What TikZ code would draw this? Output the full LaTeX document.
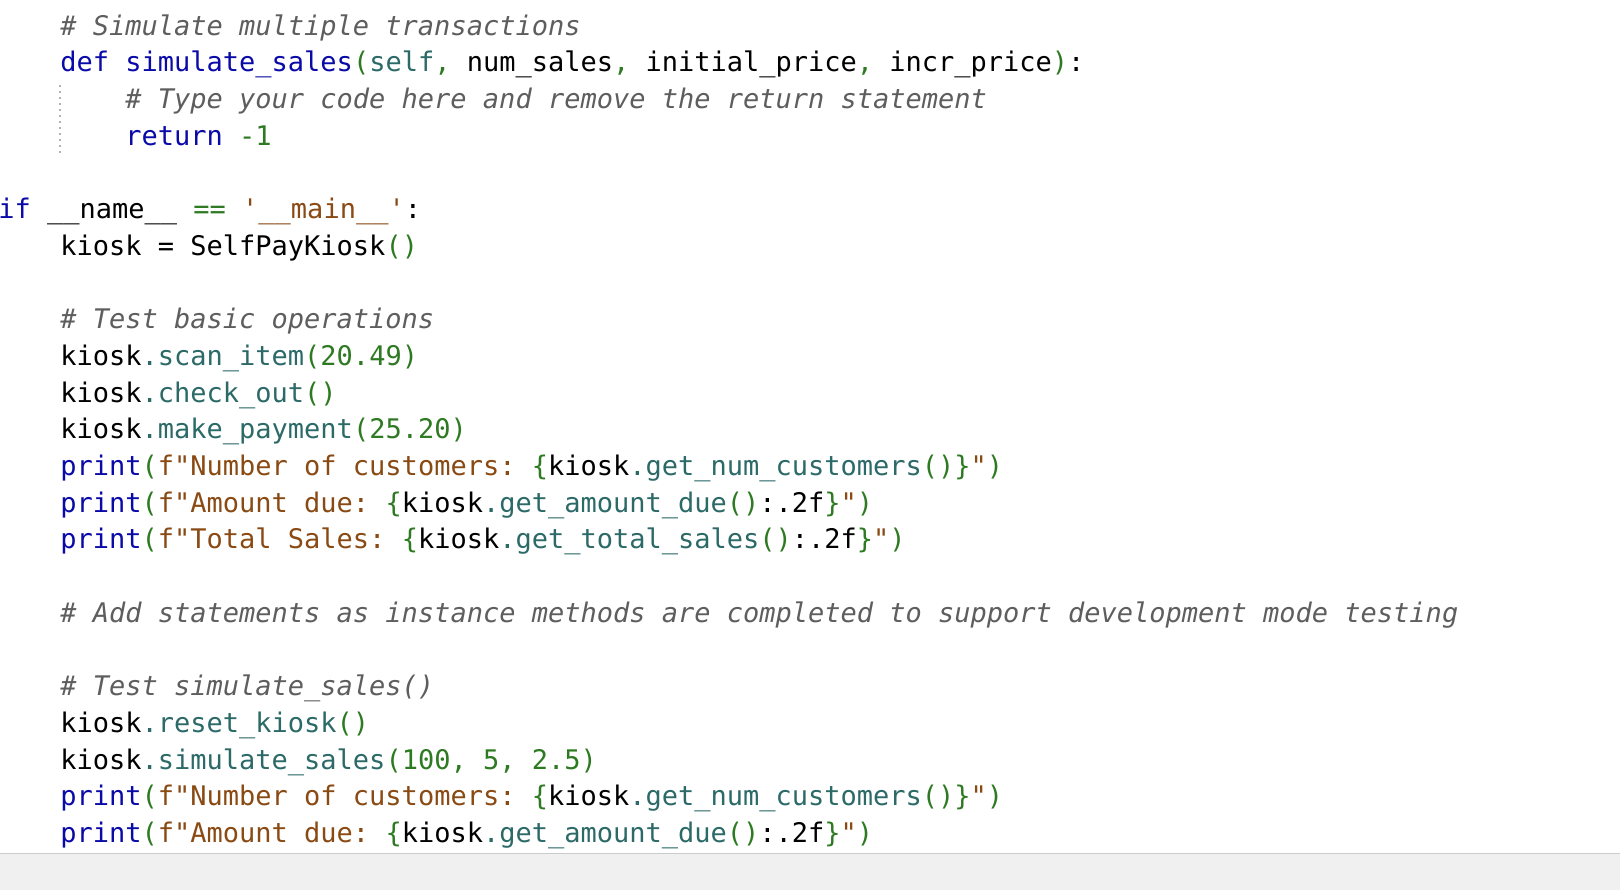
\documentclass[tikz,border=0pt]{standalone}
\usepackage{fontspec}
\setmonofont{DejaVu Sans Mono}
\definecolor{kw}{HTML}{0A0AA8}
\definecolor{pn}{HTML}{2E7A22}
\definecolor{mt}{HTML}{2C6A68}
\definecolor{st}{HTML}{8A4A14}
\definecolor{cm}{HTML}{5E5E5E}
\newcommand\cK[1]{\textcolor{kw}{#1}}
\newcommand\cP[1]{\textcolor{pn}{#1}}
\newcommand\cM[1]{\textcolor{mt}{#1}}
\newcommand\cS[1]{\textcolor{st}{#1}}
\newcommand\cC[1]{\textcolor{cm}{\itshape #1}}
\newcommand\cl[4]{\node[code] (#1) at ({-5+16.25*#2},{35+36.7*#3}) {#4};}
\begin{document}
\begin{tikzpicture}[x=0.5pt,y=-0.5pt,
  code/.style={anchor=base west,inner sep=0pt,font=\ttfamily\fontsize{13.5pt}{16pt}\selectfont}]
\useasboundingbox[fill=white] (0,0) rectangle (1620,890);
\cl{l0}{4}{0}{\cC{\# Simulate multiple transactions}}
\cl{l1}{4}{1}{\cK{def simulate\_sales}\cP{(}\cM{self}\cP{,} num\_sales\cP{,} initial\_price\cP{,} incr\_price\cP{)}:}
\cl{l2}{8}{2}{\cC{\# Type your code here and remove the return statement}}
\cl{l3}{8}{3}{\cK{return} \cP{-1}}
\node[code] (l5) at (-2,{35+36.7*5}) {\cK{if} \_\_name\_\_ \cP{==} \cS{'\_\_main\_\_'}:};
\cl{l6}{4}{6}{kiosk = SelfPayKiosk\cP{()}}
\cl{l8}{4}{8}{\cC{\# Test basic operations}}
\cl{l9}{4}{9}{kiosk\cM{.scan\_item}\cP{(20.49)}}
\cl{l10}{4}{10}{kiosk\cM{.check\_out}\cP{()}}
\cl{l11}{4}{11}{kiosk\cM{.make\_payment}\cP{(25.20)}}
\cl{l12}{4}{12}{\cK{print}\cP{(}\cS{f"Number of customers: }\cP{\{}kiosk\cM{.get\_num\_customers}\cP{()\}}\cS{"}\cP{)}}
\cl{l13}{4}{13}{\cK{print}\cP{(}\cS{f"Amount due: }\cP{\{}kiosk\cM{.get\_amount\_due}\cP{()}:.2f\cP{\}}\cS{"}\cP{)}}
\cl{l14}{4}{14}{\cK{print}\cP{(}\cS{f"Total Sales: }\cP{\{}kiosk\cM{.get\_total\_sales}\cP{()}:.2f\cP{\}}\cS{"}\cP{)}}
\cl{l16}{4}{16}{\cC{\# Add statements as instance methods are completed to support development mode testing}}
\cl{l18}{4}{18}{\cC{\# Test simulate\_sales()}}
\cl{l19}{4}{19}{kiosk\cM{.reset\_kiosk}\cP{()}}
\cl{l20}{4}{20}{kiosk\cM{.simulate\_sales}\cP{(100, 5, 2.5)}}
\cl{l21}{4}{21}{\cK{print}\cP{(}\cS{f"Number of customers: }\cP{\{}kiosk\cM{.get\_num\_customers}\cP{()\}}\cS{"}\cP{)}}
\cl{l22}{4}{22}{\cK{print}\cP{(}\cS{f"Amount due: }\cP{\{}kiosk\cM{.get\_amount\_due}\cP{()}:.2f\cP{\}}\cS{"}\cP{)}}
\draw[gray!60,dotted,line width=1pt] (60,85) -- (60,153);
\fill[gray!12] (0,853) rectangle (1620,890);
\draw[gray!40] (0,853) -- (1620,853);
\end{tikzpicture}
\end{document}
